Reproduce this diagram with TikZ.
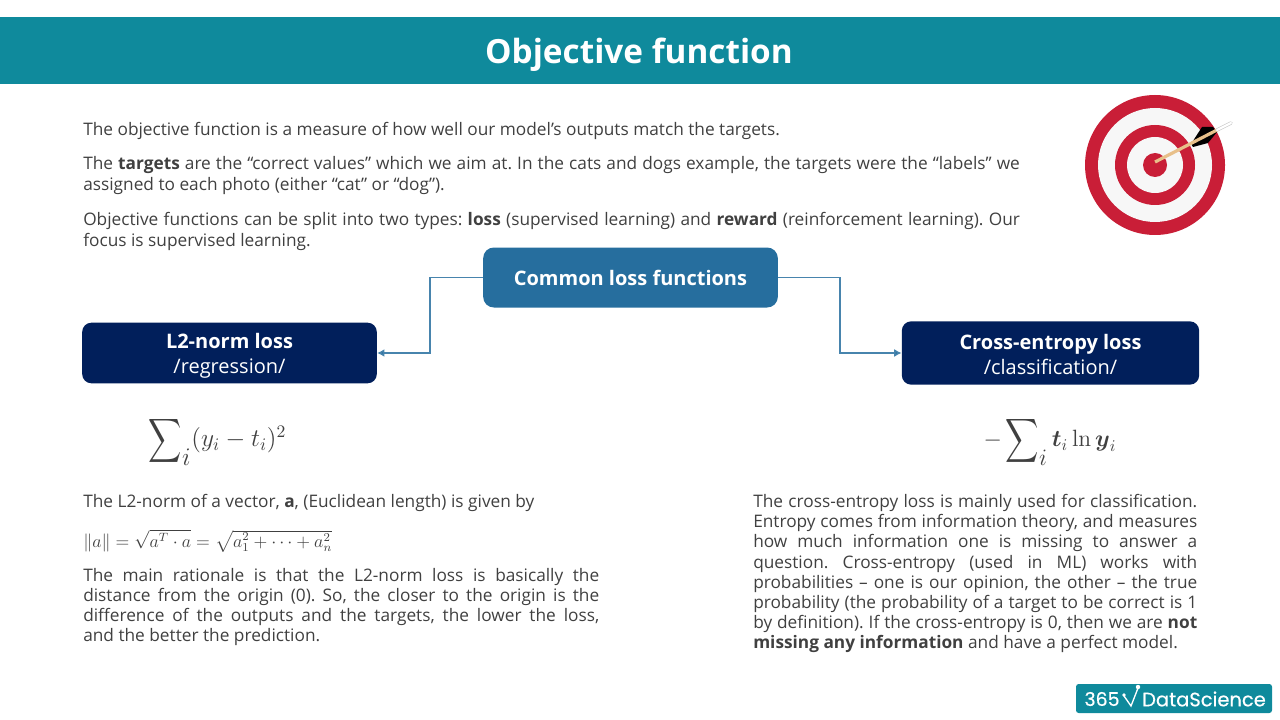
\documentclass[tikz,border=0pt]{standalone}
\usepackage{amsmath}
\usepackage{graphicx}
\usepackage[no-math]{fontspec}
\setmainfont{Open Sans}
\newfontfamily\logofont[FakeBold=0.5]{Poppins}
\usetikzlibrary{arrows.meta,positioning}

\definecolor{bandteal}{HTML}{0F8A9C}
\definecolor{commonblue}{HTML}{266E9E}
\definecolor{lossnavy}{HTML}{011F5B}
\definecolor{bodygray}{HTML}{404040}
\definecolor{targetred}{HTML}{C91E37}
\definecolor{targetwhite}{HTML}{F7F7F7}
\definecolor{shafttan}{HTML}{E8C08A}

\tolerance=9999
\hyphenpenalty=10000
\frenchspacing
\newcommand{\bodysize}{\fontsize{12.95}{15.15}\selectfont}
\newcommand{\bigsum}[2]{\mathop{\vcenter{\hbox{\scalebox{#1}[#2]{$\displaystyle\sum$}}}}\nolimits}
\newcommand{\firstline}[1]{\rule{0pt}{#1}}

\tikzset{
	bodytext/.style={anchor=north west,inner sep=0pt,align=justify,font=\bodysize,text=bodygray},
	formula/.style={inner sep=0pt,text=bodygray,font=\Large,scale=1.32},
	commonbox/.style={rectangle,rounded corners=8pt,fill=commonblue,text=white,align=center,inner sep=0pt,minimum width=221pt,minimum height=45pt,font=\fontsize{15}{18}\selectfont\bfseries},
	lossbox/.style={rectangle,rounded corners=7pt,fill=lossnavy,text=white,align=center,inner sep=0pt,font=\fontsize{15}{18.8}\selectfont},
	flowline/.style={draw=commonblue!85,line width=1.1pt,-{Latex[length=5.5pt,width=6pt,fill=commonblue]}},
}

\begin{document}
\begin{tikzpicture}[x=0.75pt,y=-0.75pt]
\useasboundingbox (0,0) rectangle (1280,720);

% header
\fill[bandteal] (0,17) rectangle (1280,84);
\node[text=white,inner sep=0pt,font=\fontsize{25}{30}\selectfont\bfseries] (title) at (639,55) {Objective function};

% intro text
\node[bodytext,text width=702.5pt] (intro) at (83,122) {The objective function is a measure of how well our model’s outputs match the targets.\par};
\node[bodytext,text width=702.5pt] (targets) at (83,156.5) {The \textbf{targets} are the “correct values” which we aim at. In the cats and dogs example, the targets were the “labels” we\linebreak assigned to each photo (either “cat” or “dog”).\par};
\node[bodytext,text width=702.5pt] (types) at (83,212.5) {Objective functions can be split into two types: \textbf{loss} (supervised learning) and \textbf{reward} (reinforcement learning). Our\linebreak focus is supervised learning.\par};

% boxes
\node[commonbox] (common) at (630.5,277.5) {Common loss functions};
\node[lossbox,minimum width=221pt,minimum height=45.5pt] (l2) at (229.5,353) {\firstline{15pt}\textbf{L2-norm loss}\\/regression/};
\node[lossbox,minimum width=223pt,minimum height=47.5pt] (ce) at (1050.5,353) {\firstline{13pt}\textbf{Cross-entropy loss}\\/classification/};

\coordinate (midl) at (430,315);
\coordinate (midr) at (840,315);
\draw[flowline] (common.west) -| (midl) |- (l2.east);
\draw[flowline] (common.east) -| (midr) |- (ce.west);

% formulas
\node[formula] (l2sum) at (217.5,441) {$\bigsum{.91}{1.21}_{\textstyle i}(y_i-t_i)^2$};
\node[formula,scale=.93] (cesum) at (1050,441) {$-\bigsum{.98}{1.3}_{\textstyle i}\boldsymbol{t}_i\ln\boldsymbol{y}_i$};

% left column
\node[bodytext,text width=387pt] (l2def) at (83,494.5) {The L2-norm of a vector, \textbf{a}, (Euclidean length) is given by\par};
\node[inner sep=0pt,text=bodygray,font=\large,scale=1.13,anchor=west] (l2eq) at (83,541) {$\|a\|=\sqrt{a^T\cdot a}=\sqrt{a_1^2+\dots+a_n^2}$};
\node[bodytext,text width=387pt] (l2why) at (83,568) {The main rationale is that the L2-norm loss is basically the\linebreak distance from the origin (0). So, the closer to the origin is the\linebreak difference of the outputs and the targets, the lower the loss,\linebreak and the better the prediction.\par};

% right column
\node[bodytext,text width=333pt] (cetext) at (753,494) {The cross-entropy loss is mainly used for classification.\linebreak Entropy comes from information theory, and measures\linebreak how much information one is missing to answer a\linebreak question. Cross-entropy (used in ML) works with\linebreak probabilities – one is our opinion, the other – the true\linebreak probability (the probability of a target to be correct is 1\linebreak by definition). If the cross-entropy is 0, then we are \textbf{not}\linebreak \textbf{missing any information} and have a perfect model.\par};

% target
\fill[targetred] (1155,165) circle (70);
\fill[targetwhite] (1155,165) circle (57);
\fill[targetred] (1155,165) circle (40);
\fill[targetwhite] (1155,165) circle (28);
\fill[targetred] (1155,165) circle (12);
\fill[black] (1191,144) -- (1202,127) -- (1213,127) -- (1217,132) -- (1208,143) -- (1193,147) -- cycle;
\draw[shafttan,line width=2.4pt] (1155,162) -- (1217,130);
\draw[gray!40,line width=2.6pt,line cap=round] (1217,130) -- (1231,123);
\draw[white,line width=1.6pt,line cap=round] (1217,130) -- (1231,123);

% logo
\fill[bandteal,rounded corners=2pt] (1076,684) rectangle (1272,713);
\node[text=white,inner sep=0pt,font=\logofont\fontsize{14.2}{16}\selectfont] (logo365) at (1102,699) {365};
\node[text=white,inner sep=0pt,font=\logofont\fontsize{14.6}{16}\selectfont] (logods) at (1204,699) {DataScience};
\draw[white,line width=1pt] (1124,696) -- (1131,706) -- (1138,688);
\fill[white] (1124,695) circle (1.8);
\fill[white] (1138,687) circle (2.2);
\end{tikzpicture}
\end{document}
